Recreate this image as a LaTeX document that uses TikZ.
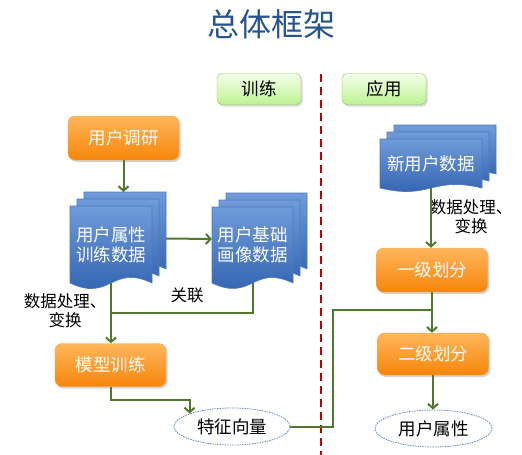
\documentclass[tikz,border=0pt]{standalone}
\usepackage{fontspec}
\setmainfont{Noto Sans CJK SC}
\usetikzlibrary{arrows.meta,shapes.geometric,shadows}
\definecolor{titleblue}{RGB}{38,84,146}
\definecolor{flowgreen}{RGB}{79,122,40}
\definecolor{divred}{RGB}{192,0,0}
\definecolor{orangetop}{RGB}{255,182,92}
\definecolor{orangebot}{RGB}{247,134,10}
\definecolor{orangeedge}{RGB}{246,165,70}
\definecolor{doctop}{RGB}{112,155,218}
\definecolor{docbot}{RGB}{44,94,172}
\definecolor{docedge}{RGB}{78,120,190}
\definecolor{btntop}{RGB}{244,255,234}
\definecolor{btnbot}{RGB}{190,242,146}
\definecolor{btnedge}{RGB}{140,195,85}
\definecolor{ovaledge}{RGB}{100,135,190}

\begin{document}
\begin{tikzpicture}[x=1pt, y=-1pt,
  every node/.style={font=\fontsize{17.5}{20}\selectfont},
  bn/.style={draw=btnedge, top color=btntop, bottom color=btnbot, rounded corners=5pt, minimum width=84, minimum height=31,
    drop shadow={shadow xshift=1.5pt, shadow yshift=-2pt, opacity=0.3}},
  on/.style={draw=orangeedge, top color=orangetop, bottom color=orangebot, rounded corners=7pt, minimum width=111, minimum height=44,
    text=white, drop shadow={shadow xshift=1.5pt, shadow yshift=-2pt, opacity=0.35}},
  en/.style={ellipse, draw=ovaledge, dash pattern=on 1.5pt off 1pt, line width=0.8pt, fill=white, minimum width=116, minimum height=37, inner sep=0pt},
  dp/.style={draw=docedge, line width=0.6pt, top color=doctop, bottom color=docbot},
  dn/.style={text=white, align=center, inner sep=0pt},
  lb/.style={font=\fontsize{16.5}{19}\selectfont, align=center},
  ar/.style={draw=flowgreen, line width=2pt, -{Straight Barb[length=4.5pt,width=10pt]}},
  ln/.style={draw=flowgreen, line width=2pt}]

\useasboundingbox (0,0) rectangle (522,455);

% ---------------- title and headers ----------------
\node[text=titleblue, font=\fontsize{32}{36}\selectfont] (title) at (271,24) {总体框架};
\node[bn] (train) at (259,89) {训练};
\node[bn] (apply) at (384,89) {应用};

% ---------------- divider ----------------
\coordinate (divtop) at (321,74);
\coordinate (divbot) at (321,455);
\draw[draw=divred, line width=1.8pt, dash pattern=on 8pt off 5pt] (divtop) -- (divbot);

% ---------------- document stacks ----------------
\foreach \lx/\ty/\w/\h in {70/206/82/77, 212/207/81/76, 380/139/102/49}{
  \foreach \o in {14,7,0}{
    \path[dp] ({\lx+\o},{\ty-\o}) -- ({\lx+\o+\w},{\ty-\o}) -- ({\lx+\o+\w},{\ty-\o+\h})
      .. controls ({\lx+\o+\w/2},{\ty-\o+\h-\h/4}) and ({\lx+\o+\w/2},{\ty-\o+\h+\h/4}) .. ({\lx+\o},{\ty-\o+\h}) -- cycle;
  }
}
\node[dn, minimum width=82, minimum height=77] (d1) at (111,244.5) {用户属性\\训练数据};
\node[dn, minimum width=81, minimum height=76] (d2) at (252.5,245) {用户基础\\画像数据};
\node[dn, minimum width=102, minimum height=49] (d3) at (431,163.5) {新用户数据};
\coordinate (d1t) at (125,192);

% ---------------- training column ----------------
\node[on] (survey) at (123.5,138) {用户调研};
\node[on, minimum height=43] (model) at (110.5,365) {模型训练};
\node[en] (feat) at (232,426.5) {特征向量};

% ---------------- application column ----------------
\node[on] (lvl1) at (432,270) {一级划分};
\node[on, minimum height=42] (lvl2) at (433,354) {二级划分};
\node[en, minimum width=117] (attr) at (433.5,428.5) {用户属性};

% ---------------- labels ----------------
\node[lb] (prepL) at (65,311) {数据处理、\\变换};
\node[lb] (link) at (187,295) {关联};
\node[lb] (prepR) at (471,217) {数据处理、\\变换};

% ---------------- training flow ----------------
\coordinate (join) at (111,313);
\draw[ar] (survey.south) -- (survey.south |- d1t);
\draw[ar] ([xshift=14pt, yshift=6pt]d1.east) -- ([yshift=6pt]d2.west);
\draw[ln] (d2.south) |- (join);
\draw[ar] (d1.south) -- (d1.south |- model.north);
\draw[ar] (model.south) -- ++(0,13.5) -| (feat.163);

% ---------------- application flow ----------------
\coordinate (mergeR) at (lvl1.south |- 0,310);
\draw[ar] (d3.south) -- (d3.south |- lvl1.north);
\draw[ln] (feat.east) -- ++(43,0) |- (mergeR);
\draw[ar] (lvl1.south) -- (lvl1.south |- lvl2.north);
\draw[ar] (lvl2.south) -- (lvl2.south |- attr.north);
\end{tikzpicture}
\end{document}
